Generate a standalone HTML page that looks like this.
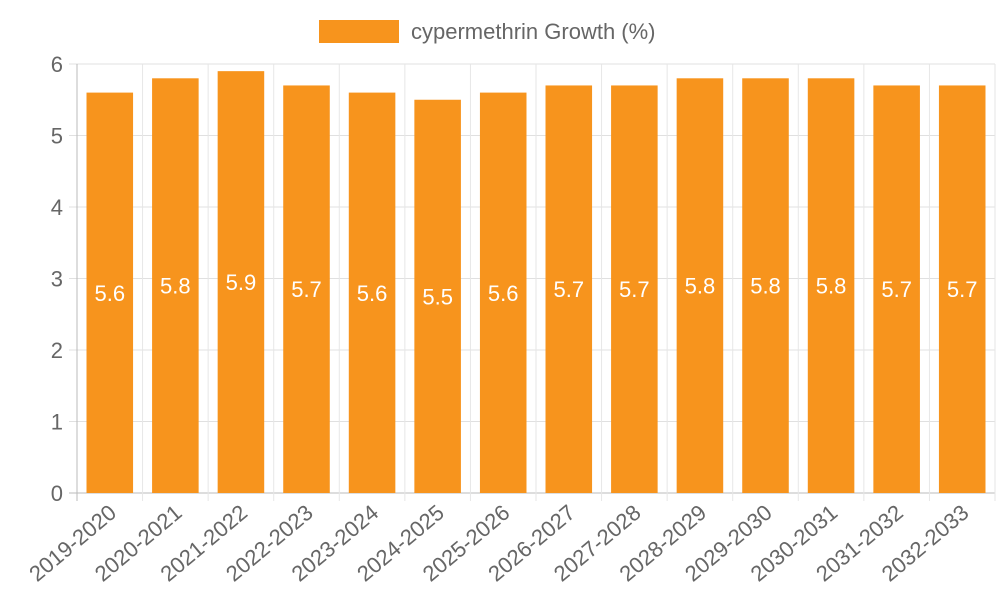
<!DOCTYPE html>
<html><head><meta charset="utf-8"><style>
body{margin:0;background:#fff;}
svg{display:block;font-family:"Liberation Sans",sans-serif;}
</style></head><body>
<svg id="chart" width="1000" height="600">
<rect x="319" y="20" width="80" height="23" fill="#f7941d"/>
<text x="411" y="39" font-size="22" fill="#666">cypermethrin Growth (%)</text>
<g id="grid"></g><g id="bars"></g><g id="labels"></g>
</svg>
<script>
const categories=["2019-2020","2020-2021","2021-2022","2022-2023","2023-2024","2024-2025","2025-2026","2026-2027","2027-2028","2028-2029","2029-2030","2030-2031","2031-2032","2032-2033"];
const values=[5.6,5.8,5.9,5.7,5.6,5.5,5.6,5.7,5.7,5.8,5.8,5.8,5.7,5.7];
const yTicks=[0,1,2,3,4,5,6];
const NS="http://www.w3.org/2000/svg";
const L=77,R=995,T=64,B=493,yMax=6;
const band=(R-L)/categories.length;
const y=v=>B-(v/yMax)*(B-T);
const x=i=>L+i*band;
function mk(tag,attrs,parent){const e=document.createElementNS(NS,tag);for(const k in attrs)e.setAttribute(k,attrs[k]);parent.appendChild(e);return e;}
const grid=document.getElementById('grid'),bars=document.getElementById('bars'),labels=document.getElementById('labels');
yTicks.forEach(t=>{
 const l=mk('line',{x1:L-8,x2:R,y1:y(t),y2:y(t),stroke:t===0?'#bbb':'#e0e0e0','stroke-width':1},grid);
 
 
 const tx=mk('text',{x:L-14,y:y(t)+8,'text-anchor':'end','font-size':22,fill:'#666'},grid);
 tx.textContent=t;
 
 
});
for(let i=0;i<=categories.length;i++){
 const l=mk('line',{x1:x(i),x2:x(i),y1:T,y2:B+8,stroke:i===0?'#bbb':'#e6e6e6','stroke-width':1},grid);
 
 
}
categories.forEach((c,i)=>{
 const bw=band*0.71,bx=x(i)+(band-bw)/2,v=values[i];
 const r=mk('rect',{x:bx,y:y(v),width:bw,height:B-y(v),fill:'#f7941d'},bars);
 
 
 const vt=mk('text',{x:bx+bw/2,y:(y(v)+B)/2+8,'text-anchor':'middle','font-size':22,fill:'#fff'},labels);
 vt.textContent=v;
 
 
 const cx=x(i)+band/2+8,cy=B+22;
 const ct=mk('text',{x:cx,y:cy,'text-anchor':'end','font-size':22,fill:'#666',transform:`rotate(-40 ${cx} ${cy})`},labels);
 ct.textContent=c;
 
 
});
mk('line',{x1:L,x2:L,y1:T,y2:B,stroke:'#bbb'},grid);
</script>
</body></html>
